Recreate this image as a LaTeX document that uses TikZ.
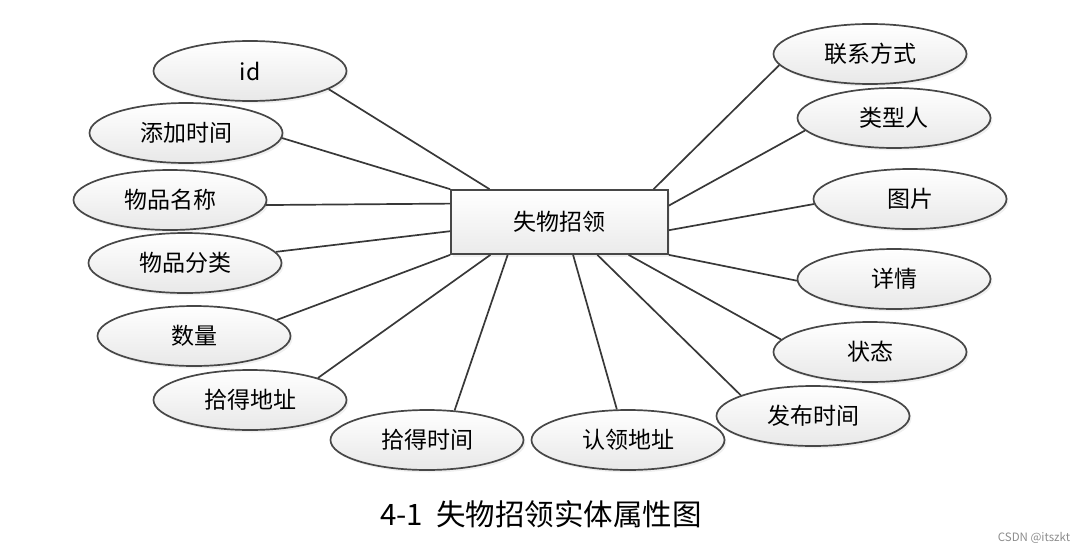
\documentclass[tikz,border=0pt]{standalone}
\usepackage{fontspec}
\setmainfont{Noto Sans CJK SC}
\usetikzlibrary{shapes.geometric,calc,shadows}
\begin{document}
\begin{tikzpicture}[x=1pt,y=-1pt,
  attr/.style={ellipse, draw=black!72, line width=1.7pt, minimum width=193pt, minimum height=60pt,
    inner sep=0pt, top color=white, bottom color=black!9,
    font=\fontsize{23}{26}\selectfont,
    drop shadow={opacity=0.12, shadow xshift=2pt, shadow yshift=-2.5pt}},
  ent/.style={rectangle, draw=black!72, line width=1.7pt, minimum width=217pt, minimum height=64pt,
    inner sep=0pt, top color=white, bottom color=black!8,
    font=\fontsize{23}{26}\selectfont,
    drop shadow={opacity=0.12, shadow xshift=2pt, shadow yshift=-2.5pt}},
  link/.style={draw=black!78, line width=1.7pt}]
\useasboundingbox (0,0) rectangle (1083,554);

\node[ent] (E) at (559.5,222) {失物招领};

\node[attr] (id)  at (250,71)  {id};
\node[attr] (tj)  at (186,133) {添加时间};
\node[attr] (mc)  at (170,200) {物品名称};
\node[attr] (fl)  at (185,263) {物品分类};
\node[attr] (sl)  at (194,336) {数量};
\node[attr] (sd)  at (250,400) {拾得地址};
\node[attr] (ss)  at (427,440) {拾得时间};
\node[attr] (rl)  at (628,440) {认领地址};
\node[attr] (fb)  at (813,416) {发布时间};
\node[attr] (zt)  at (870,352) {状态};
\node[attr] (xq)  at (894,279) {详情};
\node[attr] (tp)  at (910,199) {图片};
\node[attr] (lx)  at (894,118) {类型人};
\node[attr] (fs)  at (870,54)  {联系方式};

\draw[link] ($(E.north west)!0.18!(E.north east)$) -- (id.-13);
\draw[link] (E.north west) -- (tj.-3);
\draw[link] ($(E.north west)!0.22!(E.south west)$) -- (mc.-3);
\draw[link] ($(E.north west)!0.64!(E.south west)$) -- (fl.7);
\draw[link] (E.south west) -- (sl.11.5);
\draw[link] ($(E.south west)!0.184!(E.south east)$) -- (sd.18);
\draw[link] ($(E.south west)!0.263!(E.south east)$) -- (ss.47);
\draw[link] ($(E.south west)!0.562!(E.south east)$) -- (rl.110);
\draw[link] ($(E.south west)!0.673!(E.south east)$) -- (fb.164.5);
\draw[link] ($(E.south west)!0.816!(E.south east)$) -- (zt.172);
\draw[link] (E.south east) -- (xq.-179);
\draw[link] ($(E.north east)!0.625!(E.south east)$) -- (tp.183);
\draw[link] ($(E.north east)!0.25!(E.south east)$) -- (lx.188);
\draw[link] ($(E.north west)!0.93!(E.north east)$) -- (fs.187);

\node[font=\fontsize{29.5}{34}\selectfont] (cap) at (541,514) {4-1\ \ 失物招领实体属性图};
\node[font=\fontsize{11.5}{13}\selectfont, text=black!45] (wm) at (1034,538) {CSDN @itszkt};
\end{tikzpicture}
\end{document}
